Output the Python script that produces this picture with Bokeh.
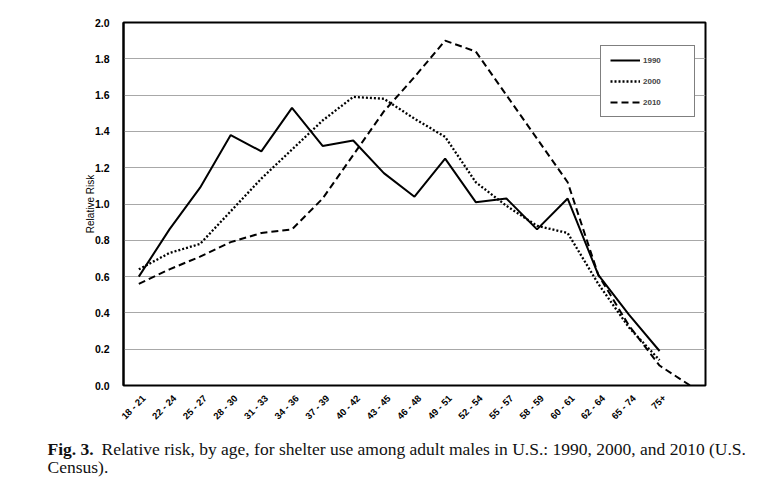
from bokeh.plotting import figure
from bokeh.layouts import column
from bokeh.models import Range1d, FixedTicker, Legend, LegendItem, PrintfTickFormatter
from bokeh.core.properties import value
from bokeh.embed import file_html
from bokeh.resources import INLINE
from math import pi

ages = ["18 - 21", "22 - 24", "25 - 27", "28 - 30", "31 - 33", "34 - 36", "37 - 39",
        "40 - 42", "43 - 45", "46 - 48", "49 - 51", "52 - 54", "55 - 57", "58 - 59",
        "60 - 61", "62 - 64", "65 - 74", "75+", ""]

rr_1990 = [0.60, 0.86, 1.09, 1.38, 1.29, 1.53, 1.32, 1.35, 1.17, 1.04, 1.25, 1.01,
           1.03, 0.86, 1.03, 0.61, 0.39, 0.19]
rr_2000 = [0.64, 0.73, 0.78, 0.96, 1.14, 1.30, 1.46, 1.59, 1.58, 1.47, 1.37, 1.12,
           0.99, 0.88, 0.84, 0.56, 0.32, 0.14]
rr_2010 = [0.56, 0.64, 0.71, 0.79, 0.84, 0.86, 1.03, 1.27, 1.51, 1.70, 1.90, 1.84,
           1.60, 1.36, 1.12, 0.61, 0.33, 0.11, 0.0]

y_ticks = [0.0, 0.2, 0.4, 0.6, 0.8, 1.0, 1.2, 1.4, 1.6, 1.8, 2.0]

caption_bold = "Fig. 3."
caption_line1 = "Relative risk, by age, for shelter use among adult males in U.S.: 1990, 2000, and 2010 (U.S."
caption_line2 = "Census)."

# category centres on a numeric axis (one unit per age group)
pos = [i + 0.5 for i in range(len(ages))]
n = len(ages)

W = 760
LEFT, FW, TOP, FH = 123, 582, 22, 363
BOT = 8
H1 = TOP + FH + BOT
p = figure(width=W, height=H1, x_range=Range1d(0, n),
           y_range=Range1d(0, 2.0), output_backend="svg", toolbar_location=None,
           x_axis_location=None,
           min_border_left=LEFT, min_border_right=W - LEFT - FW,
           min_border_top=TOP, min_border_bottom=BOT)
p.background_fill_color = "white"
p.border_fill_color = "white"
p.outline_line_color = "black"
p.outline_line_width = 2

p.xgrid.grid_line_color = None
p.ygrid.grid_line_color = "#a8a8a8"
p.ygrid.grid_line_width = 1.2
p.ygrid.ticker = FixedTicker(ticks=y_ticks)

p.yaxis.ticker = FixedTicker(ticks=y_ticks)
p.yaxis.formatter = PrintfTickFormatter(format="%.1f")
p.yaxis.axis_line_color = "black"
p.yaxis.axis_line_width = 2
p.yaxis.major_tick_line_color = None
p.yaxis.minor_tick_line_color = None
p.yaxis.major_label_text_font = "Liberation Sans"
p.yaxis.major_label_text_font_style = "bold"
p.yaxis.major_label_text_font_size = "10.5px"
p.yaxis.major_label_text_color = "black"
p.yaxis.major_label_standoff = 8
p.yaxis.axis_label = "Relative Risk"
p.yaxis.axis_label_text_font = "Liberation Sans"
p.yaxis.axis_label_text_font_style = "normal"
p.yaxis.axis_label_text_font_size = "10px"
p.yaxis.axis_label_text_color = "black"
p.yaxis.axis_label_standoff = -4

r1 = p.line(pos[:len(rr_1990)], rr_1990, line_color="black", line_width=2)
r2 = p.line(pos[:len(rr_2000)], rr_2000, line_color="black", line_width=2.3, line_dash="2 2")
r3 = p.line(pos[:len(rr_2010)], rr_2010, line_color="black", line_width=2, line_dash="7 4")

legend = Legend(items=[LegendItem(label="1990", renderers=[r1]),
                       LegendItem(label="2000", renderers=[r2]),
                       LegendItem(label="2010", renderers=[r3])],
                location=(477, 268))
legend.border_line_color = "black"
legend.border_line_width = 1
legend.background_fill_color = "white"
legend.background_fill_alpha = 1
legend.label_text_font = "Liberation Sans"
legend.label_text_font_style = "bold"
legend.label_text_font_size = "8px"
legend.glyph_width = 30
legend.glyph_height = 10
legend.label_height = 10
legend.label_width = 42
legend.label_standoff = 3
legend.padding = 9
legend.spacing = 11
legend.margin = 0
p.add_layout(legend)

# lower strip: rotated category labels (same x scale as the chart) and caption
u = n / FW  # data units per pixel
H2 = 88
Y0 = TOP + FH + BOT  # page row where the strip starts
q = figure(width=W, height=H2, x_range=Range1d(-LEFT * u, (W - LEFT) * u),
           y_range=Range1d(-H2, 0), output_backend="svg", toolbar_location=None,
           x_axis_location=None, y_axis_location=None,
           min_border_left=0, min_border_right=0, min_border_top=0, min_border_bottom=0)
q.outline_line_color = None
q.xgrid.visible = False
q.ygrid.visible = False
q.background_fill_color = "white"
q.border_fill_color = "white"
for fig in (p, q):
    if "frame_align" in fig.properties():
        fig.frame_align = False

q.text(x=pos[:-1], y=[-(396 - Y0)] * (n - 1), text=ages[:-1], angle=pi / 4,
       x_offset=5, text_align="right", text_baseline="middle",
       text_font=value("Liberation Sans"), text_font_style="bold",
       text_font_size=value("9.5px"), text_color="black")

cap_font = value("Liberation Serif")
cap_size = value("17.5px")
q.text(x=[(47 - LEFT) * u], y=[-(448 - Y0)], text=[caption_bold], text_font=cap_font,
       text_font_style="bold", text_font_size=cap_size, text_color="#111111",
       text_baseline="middle")
q.text(x=[(101 - LEFT) * u], y=[-(448 - Y0)], text=[caption_line1], text_font=cap_font,
       text_font_size=cap_size, text_color="#111111", text_baseline="middle")
q.text(x=[(47 - LEFT) * u], y=[-(466 - Y0)], text=[caption_line2], text_font=cap_font,
       text_font_size=cap_size, text_color="#111111", text_baseline="middle")

open("out.html", "w").write(file_html(column(p, q), INLINE))
